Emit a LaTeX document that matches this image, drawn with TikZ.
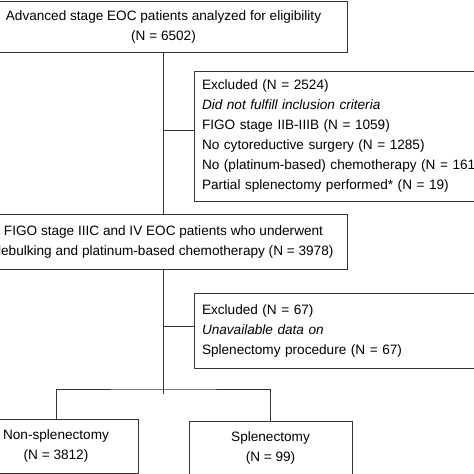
\documentclass[tikz,border=0pt]{standalone}
\usepackage{fontspec}
\setmainfont{Liberation Sans}
\begin{document}
\begin{tikzpicture}[
    x=1bp, y=-1bp,
    box/.style={rectangle, draw=black!80, line width=0.9bp, align=center, inner sep=0pt, font=\fontsize{13.6bp}{20bp}\selectfont},
    excl/.style={box, align=left, text width=310bp, inner xsep=8bp},
    link/.style={-, draw=black!80, line width=0.9bp},
]
\useasboundingbox (0,0) rectangle (474,474);
\clip (0,0) rectangle (474,474);
% Eligibility
\node[box, minimum width=367bp, minimum height=51bp] (elig) at (163.5,26.5) {Advanced stage EOC patients analyzed for eligibility\\(N = 6502)};
% Exclusion 1
\node[excl, minimum height=130bp] (excl1) at (357,136) {Excluded (N = 2524)\\\textit{Did not fulfill inclusion criteria}\\FIGO stage IIB-IIIB (N = 1059)\\No cytoreductive surgery (N = 1285)\\No (platinum-based) chemotherapy (N = 161)\\Partial splenectomy performed* (N = 19)};
% Cohort
\node[box, minimum width=367bp, minimum height=55bp] (cohort) at (163.5,241.5) {FIGO stage IIIC and IV EOC patients who underwent\\debulking and platinum-based chemotherapy (N = 3978)};
% Exclusion 2
\node[excl, minimum height=75bp] (excl2) at (357,330.5) {Excluded (N = 67)\\\textit{Unavailable data on}\\Splenectomy procedure (N = 67)};
% Groups
\node[box, minimum width=164bp, minimum height=54bp] (nonsp) at (56,446) {Non-splenectomy\\(N = 3812)};
\node[box, minimum width=163bp, minimum height=54bp] (splen) at (270.5,448) {Splenectomy\\(N = 99)};

% Connectors
\coordinate (tap1) at (163.5,130);
\coordinate (tap2) at (163.5,326);
\coordinate (split) at (163.5,389);
\draw[link] (elig.south) -- (cohort.north);
\draw[link] (tap1) -- (tap1 -| excl1.west);
\draw[link] (cohort.south) -- ([yshift=-5bp]split);
\draw[link] (tap2) -- (tap2 -| excl2.west);
\draw[link] (nonsp.north) |- (split) -| (splen.north);
\end{tikzpicture}
\end{document}
